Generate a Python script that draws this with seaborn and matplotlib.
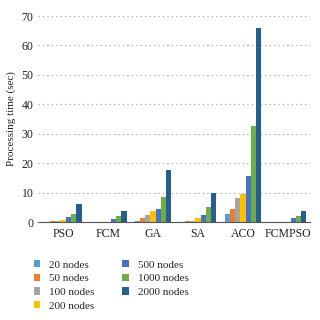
"""Processing time per algorithm and node count."""

import matplotlib

matplotlib.use("Agg")
import matplotlib.pyplot as plt
import pandas as pd
import seaborn as sns

# Data
algorithms = ["PSO", "FCM", "GA", "SA", "ACO", "FCMPSO"]
node_labels = [
    "20 nodes",
    "50 nodes",
    "100 nodes",
    "200 nodes",
    "500 nodes",
    "1000 nodes",
    "2000 nodes",
]
times_20 = [0.1, 0.0, 0.2, 0.1, 2.7, 0.0]
times_50 = [0.2, 0.0, 1.3, 0.3, 4.3, 0.0]
times_100 = [0.3, 0.0, 2.3, 0.5, 8.2, 0.0]
times_200 = [0.6, 0.0, 3.7, 1.3, 9.6, 0.0]
times_500 = [1.6, 1.2, 4.5, 2.3, 15.8, 1.3]
times_1000 = [2.8, 2.0, 8.5, 5.0, 32.7, 2.1]
times_2000 = [6.3, 3.9, 17.8, 10.0, 65.8, 3.9]

colors = ["#5B9BD5", "#ED7D31", "#A5A5A5", "#FFC000", "#4472C4", "#70AD47", "#255E91"]

series = [times_20, times_50, times_100, times_200, times_500, times_1000, times_2000]
rows = []
for label, values in zip(node_labels, series):
    for alg, v in zip(algorithms, values):
        rows.append({"Algorithm": alg, "Nodes": label, "Time": v})
df = pd.DataFrame(rows)

sns.set_style("white")
plt.rcParams["font.family"] = ["Liberation Serif", "DejaVu Serif"]

fig = plt.figure(figsize=(3.2, 3.2), dpi=100)
ax = fig.add_axes([0.12, 0.306, 0.85, 0.644])

sns.barplot(
    data=df,
    x="Algorithm",
    y="Time",
    hue="Nodes",
    order=algorithms,
    hue_order=node_labels,
    palette=colors,
    width=0.82,
    gap=0.0,
    saturation=1,
    linewidth=0,
    ax=ax,
)

ax.set_ylim(0, 70)
ax.set_xlim(-0.55, 5.5)
ax.set_yticks(range(0, 71, 10))
ax.yaxis.grid(True, linestyle=(0, (1, 3)), color="#9a9a9a", linewidth=0.8)
ax.set_axisbelow(True)
for side in ["top", "right", "left"]:
    ax.spines[side].set_visible(False)
ax.spines["bottom"].set_color("#555555")
ax.spines["bottom"].set_linewidth(0.8)
ax.tick_params(axis="both", length=0, labelsize=8.5, colors="#222222")
ax.tick_params(axis="x", pad=4)
ax.set_xlabel("")
ax.set_ylabel("Processing time (sec)", fontsize=8, color="#222222", labelpad=4)

handles, labels = ax.get_legend_handles_labels()
ax.get_legend().remove()
fig.legend(
    handles,
    labels,
    loc="upper left",
    bbox_to_anchor=(0.105, 0.187),
    ncol=2,
    frameon=False,
    fontsize=8,
    handlelength=0.6,
    handleheight=0.6,
    handletextpad=0.8,
    columnspacing=2.5,
    labelspacing=0.38,
    borderaxespad=0,
    borderpad=0,
)

plt.savefig("out.png", dpi=100)
